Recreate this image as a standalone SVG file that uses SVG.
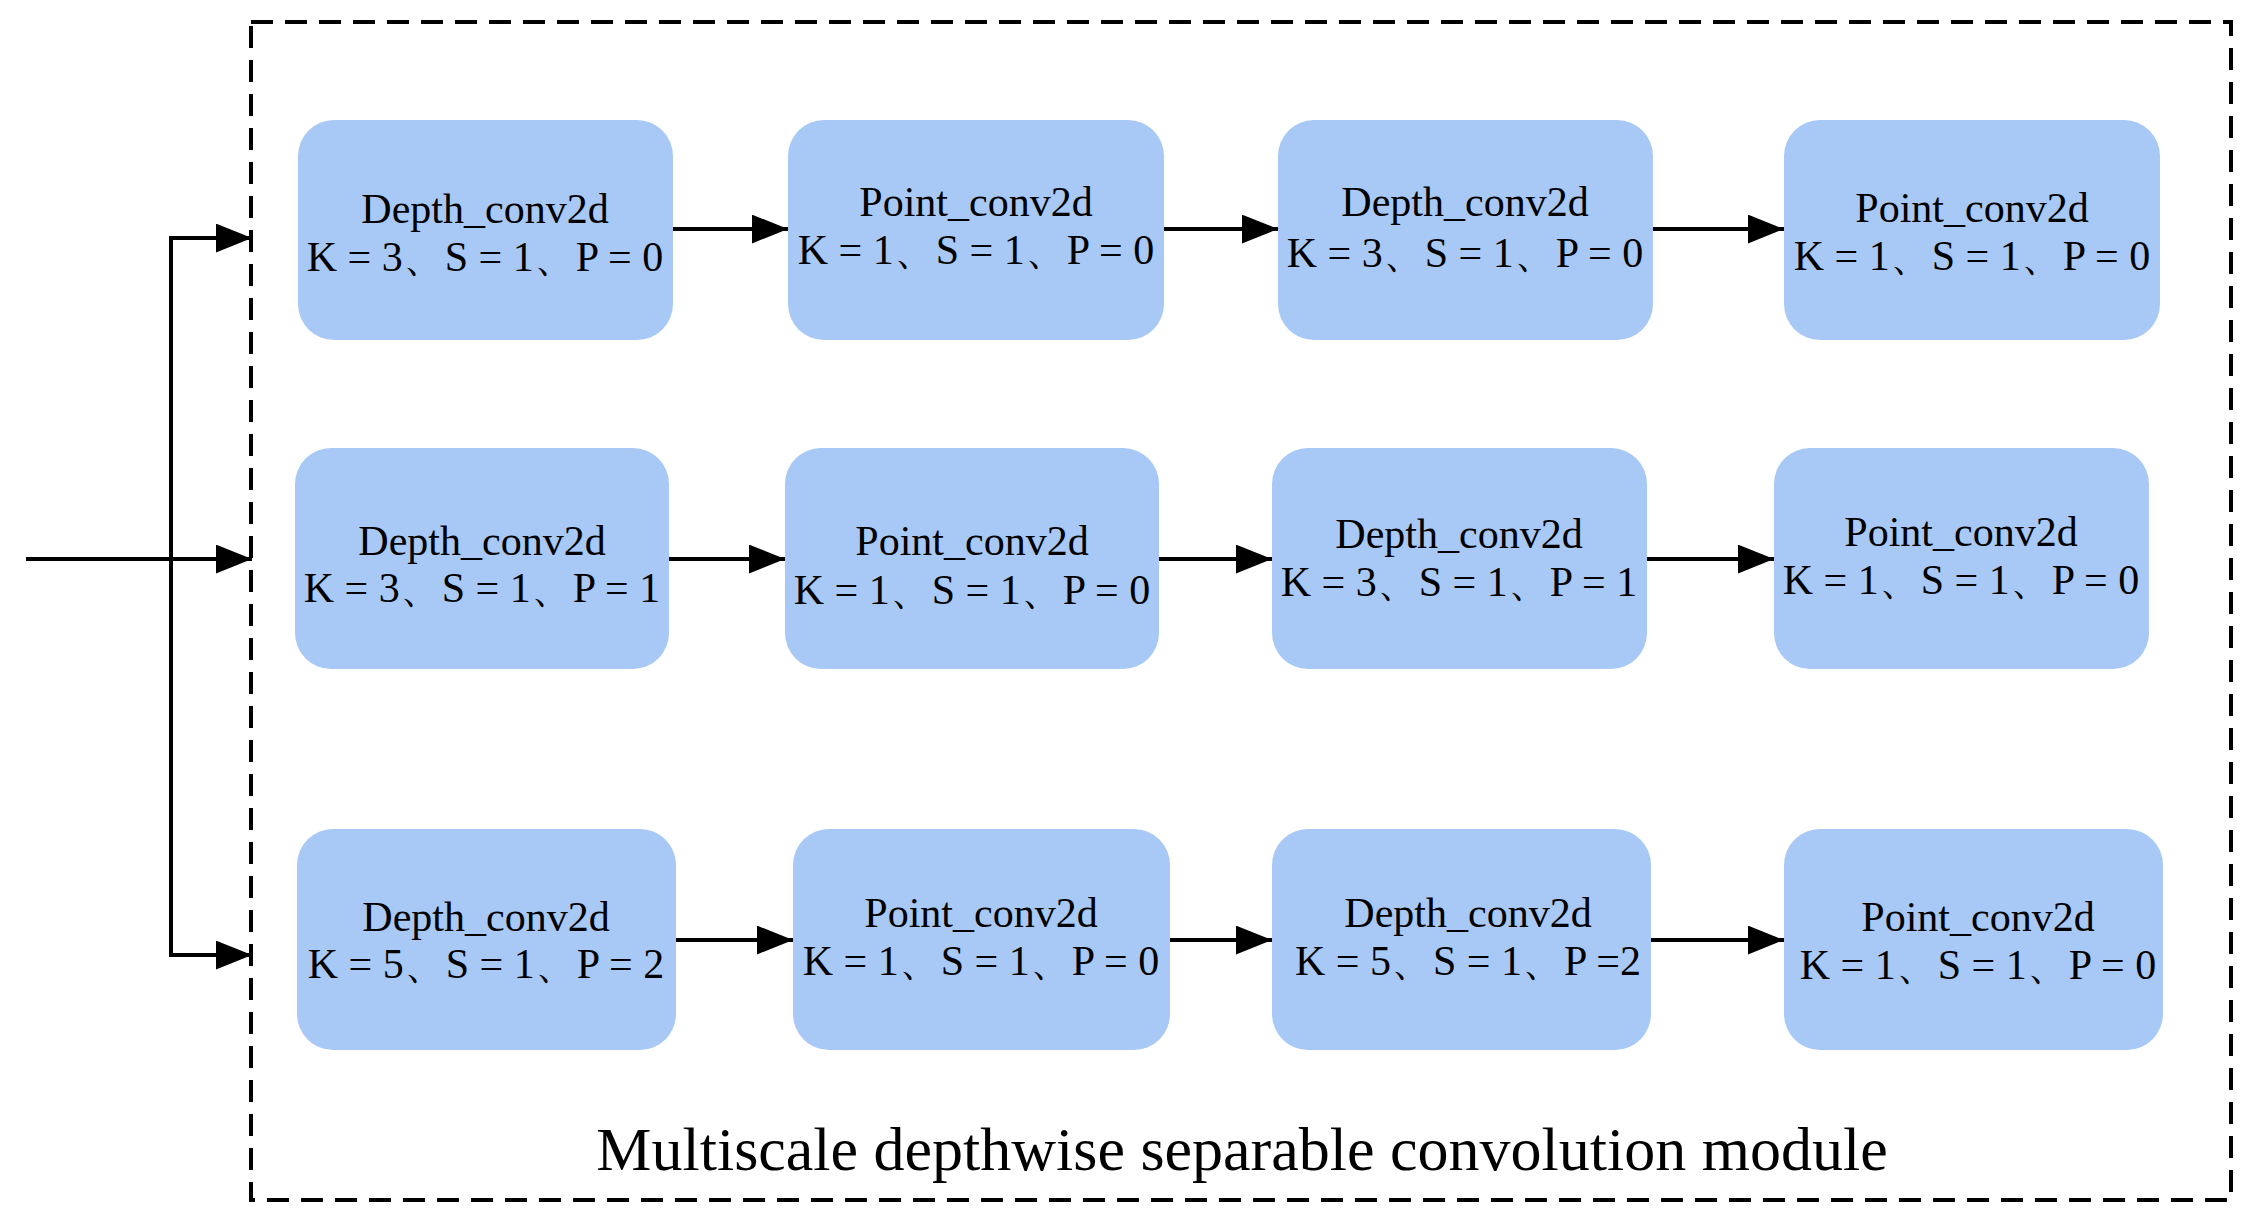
<svg xmlns="http://www.w3.org/2000/svg" width="2260" height="1230" viewBox="0 0 2260 1230">
<style>
.b{fill:#a8c8f5}
.t{font-family:"Liberation Serif",serif;font-size:42px;text-anchor:middle;fill:#000}
.l{stroke:#000;stroke-width:4;fill:none}
</style>
<defs><marker id="a" markerWidth="10" markerHeight="8" refX="10" refY="4" orient="auto" markerUnits="userSpaceOnUse" viewBox="0 0 10 8"><path d="M0,0L10,4L0,8z"/></marker>
<marker id="A" viewBox="0 0 10 8" refX="10" refY="4" markerWidth="36" markerHeight="29" orient="auto" markerUnits="userSpaceOnUse"><path d="M0,0L10,4L0,8z"/></marker></defs>
<rect x="251" y="22" width="1980" height="1178" fill="none" stroke="#000" stroke-width="4" stroke-dasharray="22,12"/>
<g id="connectors" class="l">
<path d="M26,559H252" marker-end="url(#A)"/>
<path d="M171,559V238H252" marker-end="url(#A)"/>
<path d="M171,559V955H252" marker-end="url(#A)"/>
<path d="M673,229H788" marker-end="url(#A)"/><path d="M1164,229H1278" marker-end="url(#A)"/><path d="M1653,229H1784" marker-end="url(#A)"/>
<path d="M669,559H785" marker-end="url(#A)"/><path d="M1159,559H1272" marker-end="url(#A)"/><path d="M1647,559H1774" marker-end="url(#A)"/>
<path d="M676,940H793" marker-end="url(#A)"/><path d="M1170,940H1272" marker-end="url(#A)"/><path d="M1651,940H1784" marker-end="url(#A)"/>
</g>
<g id="n11"><rect class="b" x="298" y="120" width="375" height="220" rx="36"/><text class="t" x="485" y="223">Depth_conv2d</text><text class="t" x="485" y="271">K = 3、S = 1、P = 0</text></g>
<g id="n12"><rect class="b" x="788" y="120" width="376" height="220" rx="36"/><text class="t" x="976" y="216">Point_conv2d</text><text class="t" x="976" y="264">K = 1、S = 1、P = 0</text></g>
<g id="n13"><rect class="b" x="1278" y="120" width="375" height="220" rx="36"/><text class="t" x="1465" y="216">Depth_conv2d</text><text class="t" x="1465" y="267">K = 3、S = 1、P = 0</text></g>
<g id="n14"><rect class="b" x="1784" y="120" width="376" height="220" rx="36"/><text class="t" x="1972" y="222">Point_conv2d</text><text class="t" x="1972" y="270">K = 1、S = 1、P = 0</text></g>
<g id="n21"><rect class="b" x="295" y="448" width="374" height="221" rx="36"/><text class="t" x="482" y="555">Depth_conv2d</text><text class="t" x="482" y="602">K = 3、S = 1、P = 1</text></g>
<g id="n22"><rect class="b" x="785" y="448" width="374" height="221" rx="36"/><text class="t" x="972" y="555">Point_conv2d</text><text class="t" x="972" y="604">K = 1、S = 1、P = 0</text></g>
<g id="n23"><rect class="b" x="1272" y="448" width="375" height="221" rx="36"/><text class="t" x="1459" y="548">Depth_conv2d</text><text class="t" x="1459" y="596">K = 3、S = 1、P = 1</text></g>
<g id="n24"><rect class="b" x="1774" y="448" width="375" height="221" rx="36"/><text class="t" x="1961" y="546">Point_conv2d</text><text class="t" x="1961" y="594">K = 1、S = 1、P = 0</text></g>
<g id="n31"><rect class="b" x="297" y="829" width="379" height="221" rx="36"/><text class="t" x="486" y="931">Depth_conv2d</text><text class="t" x="486" y="978">K = 5、S = 1、P = 2</text></g>
<g id="n32"><rect class="b" x="793" y="829" width="377" height="221" rx="36"/><text class="t" x="981" y="927">Point_conv2d</text><text class="t" x="981" y="975">K = 1、S = 1、P = 0</text></g>
<g id="n33"><rect class="b" x="1272" y="829" width="379" height="221" rx="36"/><text class="t" x="1468" y="927">Depth_conv2d</text><text class="t" x="1468" y="975">K = 5、S = 1、P =2</text></g>
<g id="n34"><rect class="b" x="1784" y="829" width="379" height="221" rx="36"/><text class="t" x="1978" y="931">Point_conv2d</text><text class="t" x="1978" y="979">K = 1、S = 1、P = 0</text></g>
<text x="1242" y="1170" style="font-family:'Liberation Serif',serif;font-size:62px;text-anchor:middle">Multiscale depthwise separable convolution module</text>
</svg>
